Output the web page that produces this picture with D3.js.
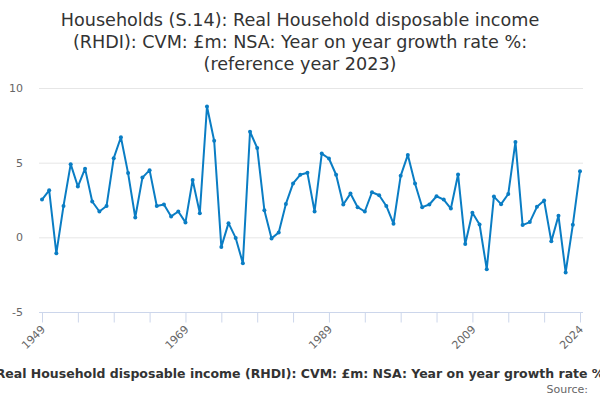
<!DOCTYPE html>
<html>
<head>
<meta charset="utf-8">
<script src="https://cdn.jsdelivr.net/npm/d3@7"></script>
<style>
  body { margin: 0; background: #fff; }
  svg { font-family: "DejaVu Sans", sans-serif; }
</style>
</head>
<body>
<div id="chart"></div>
<script>
// chart data
const titleLines = [
  "Households (S.14): Real Household disposable income",
  "(RHDI): CVM: £m: NSA: Year on year growth rate %:",
  "(reference year 2023)"
]
const axisTitle = "Real Household disposable income (RHDI): CVM: £m: NSA: Year on year growth rate %"
const sourceText = "Source:"

const years = d3.range(1949, 2025)
const growth = [
  2.53, 3.15, -1.07, 2.1, 4.9, 3.4, 4.6, 2.4, 1.73, 2.1,
  5.3, 6.7, 4.3, 1.33, 4.0, 4.5, 2.1, 2.2, 1.4, 1.73,
  1.0, 3.84, 1.62, 8.76, 6.47, -0.64, 0.95, -0.04, -1.73, 7.07,
  5.99, 1.82, -0.07, 0.33, 2.24, 3.61, 4.19, 4.32, 1.73, 5.61,
  5.28, 4.19, 2.2, 2.93, 2.02, 1.73, 3.02, 2.82, 2.1, 0.91,
  4.12, 5.52, 3.6, 2.02, 2.2, 2.75, 2.53, 1.93, 4.21, -0.44,
  1.64, 0.86, -2.13, 2.73, 2.22, 2.9, 6.39, 0.82, 1.02, 2.04,
  2.46, -0.27, 1.44, -2.35, 0.84, 4.43
]
const yTicks = [-5, 0, 5, 10]
const xTicks = d3.range(1949, 2025, 5)
const xLabels = [1949, 1969, 1989, 2009, 2024]

const W = 600, H = 400
const plot = {left: 39, right: 583, top: 88, bottom: 312}

const svg = d3.select('#chart').append('svg')
  .attr('width', W).attr('height', H)

// title, three centred lines
svg.append('text')
  .attr('text-anchor', 'middle')
  .attr('fill', '#333')
  .style('font-size', '17.6px')
  .selectAll('tspan')
  .data(titleLines)
  .join('tspan')
  .attr('x', W / 2)
  .attr('y', (d, i) => 26 + i * 22)
  .text(d => d)

const x = d3.scaleLinear().domain([1949, 2024]).range([42, 580])
const y = d3.scaleLinear().domain([-5, 10]).range([plot.bottom, plot.top])

// gridlines
svg.append('g')
  .selectAll('line')
  .data(yTicks.filter(d => d > -5))
  .join('line')
  .attr('x1', plot.left).attr('x2', plot.right)
  .attr('y1', d => y(d) + 0.5).attr('y2', d => y(d) + 0.5)
  .attr('stroke', '#e6e6e6')

// y labels
svg.append('g')
  .selectAll('text')
  .data(yTicks)
  .join('text')
  .attr('x', 23)
  .attr('y', d => y(d) + 4)
  .attr('text-anchor', 'end')
  .attr('fill', '#666')
  .style('font-size', '11px')
  .text(d => d)

// x axis
const xAxis = d3.axisBottom(x)
  .tickValues(xTicks)
  .tickSize(10)
  .tickFormat('')
const gx = svg.append('g')
  .attr('transform', `translate(0,${plot.bottom + 0.5})`)
  .call(xAxis)
gx.select('.domain').attr('d', `M${plot.left},0H${plot.right}`).attr('stroke', '#ccd6eb')
gx.selectAll('.tick line').attr('stroke', '#ccd6eb')

svg.append('g')
  .selectAll('text')
  .data(xLabels)
  .join('text')
  .attr('transform', d => `translate(${x(d) + 4},${plot.bottom + 18}) rotate(-45)`)
  .attr('text-anchor', 'end')
  .attr('fill', '#666')
  .style('font-size', '11px')
  .text(d => d)

// series
const pts = years.map((yr, i) => ({year: yr, v: growth[i]}))
const line = d3.line().x(d => x(d.year)).y(d => y(d.v))
svg.append('path')
  .datum(pts)
  .attr('d', line)
  .attr('fill', 'none')
  .attr('stroke', '#0a7dc4')
  .attr('stroke-width', 2)
  .attr('stroke-linejoin', 'round')
svg.append('g')
  .selectAll('circle')
  .data(pts)
  .join('circle')
  .attr('cx', d => x(d.year))
  .attr('cy', d => y(d.v))
  .attr('r', 2)
  .attr('fill', '#0a7dc4')

// axis title (runs past both edges, as in the original) + source
svg.append('text')
  .attr('x', W / 2).attr('y', 378)
  .attr('text-anchor', 'middle')
  .attr('fill', '#333')
  .style('font-size', '12.5px')
  .style('font-weight', 'bold')
  .text(axisTitle)
svg.append('text')
  .attr('x', 588).attr('y', 393)
  .attr('text-anchor', 'end')
  .attr('fill', '#666')
  .style('font-size', '11px')
  .text(sourceText)
</script>
</body>
</html>
